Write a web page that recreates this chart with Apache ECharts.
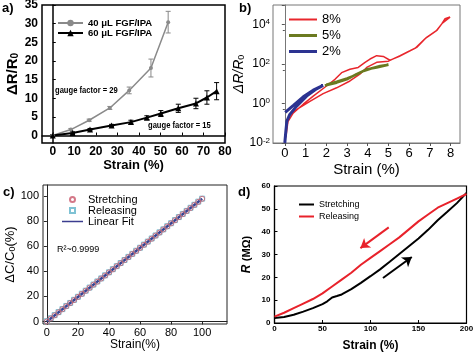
<!DOCTYPE html>
<html><head><meta charset="utf-8">
<script src="https://cdn.jsdelivr.net/npm/echarts@6/dist/echarts.min.js"></script>
<style>html,body{margin:0;padding:0;background:#fff}#c{width:474px;height:359px}</style>
</head><body><div id="c"></div>
<script>
// ---------- Panel a ----------
const aStrain40 = [0, 8.4, 16.9, 26.5, 35.5, 45.6, 53.6];
const aResp40   = [0, 1.6, 4.1, 7.4, 12.1, 18.1, 30.4];
const aErr40    = [0.2, 0.3, 0.3, 0.4, 0.9, 2.4, 2.9];
const aStrain60 = [0, 9.2, 17.3, 27.3, 36.3, 43.7, 50.2, 58.3, 66.5, 71.6, 76.1];
const aResp60   = [0, 0.7, 1.6, 2.7, 3.6, 4.8, 5.9, 7.3, 8.6, 10.2, 11.9];
const aErr60    = [0.2, 0.3, 0.3, 0.3, 0.5, 0.5, 0.8, 1.1, 1.4, 1.8, 2.3];
const aXTicks = [0, 10, 20, 30, 40, 50, 60, 70, 80];
const aYTicks = [0, 5, 10, 15, 20, 25, 30, 35];

// ---------- Panel b ----------
const b8Strain = [0, 0.08, 0.24, 0.56, 1.21, 1.85, 2.5, 3.14, 3.62, 3.95, 4.43, 5.0, 5.2, 5.56, 6.04, 6.36, 6.84, 7.33, 7.57, 7.73, 7.97,
                  7.6, 7.3, 6.8, 6.3, 5.9, 5.5, 5.2, 5.07, 4.75, 4.43, 4.11, 3.87, 3.54, 3.14, 2.74, 2.42, 2.01, 1.37, 0.89, 0.4, 0.15, 0.05];
const b8Resp   = [0.01, 0.07, 0.28, 0.49, 1.3, 3.2, 6.3, 14, 31, 68, 123, 141, 180, 270, 480, 710, 2300, 5100, 11000, 20000, 24500,
                  12000, 4800, 2100, 650, 400, 240, 180, 158, 245, 270, 182, 123, 68, 55, 37, 17, 7.8, 2.4, 0.93, 0.33, 0.12, 0.02];
const b5Strain = [1.93, 2.5, 2.99, 3.46, 3.95, 4.43, 5.0, 4.6, 4.2, 3.8, 3.4, 3.0, 2.5, 2.0];
const b5Resp   = [8.3, 11.5, 17, 31, 55, 68, 93, 80, 62, 45, 28, 19, 13, 9];
const b2Strain = [0.02, 0.4, 0.89, 1.37, 1.85, 1.53, 1.05, 0.56, 0.24, 0.1, 0.05, 0.0];
const b2Resp   = [0.36, 0.79, 2.2, 4.8, 8.3, 5.6, 2.4, 0.72, 0.28, 0.13, 0.04, 0.01];
const bXTicks = [0, 1, 2, 3, 4, 5, 6, 7, 8];

// ---------- Panel c ----------
const cStrain  = [0,2.5,5,7.5,10,12.5,15,17.5,20,22.5,25,27.5,30,32.5,35,37.5,40,42.5,45,47.5,50,52.5,55,57.5,60,62.5,65,67.5,70,72.5,75,77.5,80,82.5,85,87.5,90,92.5,95,97.5,100];
const cStretch = [0,2.4,4.9,7.3,9.8,12.2,14.7,17.1,19.6,22,24.5,26.9,29.4,31.8,34.3,36.7,39.2,41.6,44.1,46.5,49,51.4,53.9,56.3,58.8,61.2,63.7,66.1,68.6,71,73.5,75.9,78.4,80.8,83.3,85.7,88.2,90.6,93.1,95.5,98];
const cRelease = [0.3,2.6,5.1,7.5,9.9,12.4,14.8,17.3,19.7,22.2,24.6,27.1,29.5,32,34.4,36.9,39.3,41.8,44.2,46.7,49.1,51.6,54,56.5,58.9,61.4,63.8,66.3,68.7,71.2,73.6,76.1,78.5,81,83.4,85.9,88.3,90.8,93.2,95.7,98.1];
const cFitX = [0, 100];
const cFitY = [0, 98];
const cTicks = [0, 20, 40, 60, 80, 100];

// ---------- Panel d ----------
const dStretchX = [0,10,20,30,40,50,55,60,65,70,80,90,100,110,120,130,140,150,160,170,180,190,200];
const dStretchY = [2.2,2.6,3.6,5.0,6.5,8.3,9.5,11.2,11.8,12.5,14.8,17.6,20.5,23.5,26.8,30.2,33.6,37,40.8,45,48.7,52.5,57];
const dReleaseX = [0,10,20,30,40,50,60,70,80,90,100,110,120,130,140,150,160,170,180,190,200];
const dReleaseY = [2.8,4.5,6.5,8.5,10.5,13,16,19,22,25.5,28.5,31.5,34.5,37.5,41,44.5,47.5,50.5,52.5,54.5,56.5];

const FONT = 'Liberation Sans, Arial, sans-serif';
const pair = (xs, ys) => xs.map((x, i) => [x, ys[i]]);
const bar = (w, h) => 'path://M0,0L' + w + ',0L' + w + ',' + h + 'L0,' + h + 'Z';

function errSeries(xs, ys, es, color) {
  return {
    type: 'custom', xAxisIndex: 0, yAxisIndex: 0, silent: true, z: 1,
    data: xs.map((x, i) => [x, ys[i], es[i]]),
    encode: { x: 0, y: 1 },
    renderItem(params, api) {
      const x = api.value(0), y = api.value(1), e = api.value(2);
      const hi = api.coord([x, y + e]), lo = api.coord([x, y - e]);
      const w = 2.5, st = { stroke: color, lineWidth: 1 };
      return { type: 'group', children: [
        { type: 'line', shape: { x1: hi[0], y1: hi[1], x2: lo[0], y2: lo[1] }, style: st },
        { type: 'line', shape: { x1: hi[0] - w, y1: hi[1], x2: hi[0] + w, y2: hi[1] }, style: st },
        { type: 'line', shape: { x1: lo[0] - w, y1: lo[1], x2: lo[0] + w, y2: lo[1] }, style: st }
      ]};
    }
  };
}

const supRich = { b: { fontSize: 12, color: '#000', fontFamily: FONT }, s: { fontSize: 8, color: '#000', fontFamily: FONT, verticalAlign: 'top', padding: [0, 0, 5, 0] } };

const chart = echarts.init(document.getElementById('c'), null, { renderer: 'canvas' });
chart.setOption({
  animation: false,
  textStyle: { fontFamily: FONT },
  grid: [
    { left: 42, top: 5, width: 183, height: 138, show: true, borderColor: '#000', borderWidth: 1.5, outerBoundsMode: 'none' },
    { left: 273, top: 5, width: 187, height: 138, show: true, borderColor: '#777', borderWidth: 1, outerBoundsMode: 'none' },
    { left: 43, top: 185, width: 184, height: 139, show: true, borderColor: '#222', borderWidth: 1, outerBoundsMode: 'none' },
    { left: 274.5, top: 186, width: 192, height: 137, show: true, borderColor: '#000', borderWidth: 1.2, outerBoundsMode: 'none' }
  ],
  xAxis: [
    { gridIndex: 0, type: 'value', min: -5, max: 80,
      axisLine: { lineStyle: { color: '#000', width: 1.5 } },
      axisTick: { inside: true, length: 3, customValues: aXTicks, lineStyle: { color: '#000' } },
      axisLabel: { customValues: aXTicks, margin: 3, fontSize: 12, fontWeight: 'bold', color: '#000' },
      splitLine: { show: false },
      name: 'Strain (%)', nameLocation: 'middle', nameGap: 15,
      nameTextStyle: { fontSize: 13, fontWeight: 'bold', color: '#000' } },
    { gridIndex: 1, type: 'value', min: -0.57, max: 8.45,
      axisLine: { lineStyle: { color: '#777' } },
      axisTick: { inside: false, length: 3, customValues: bXTicks, lineStyle: { color: '#555' } },
      axisLabel: { customValues: bXTicks, margin: 4, fontSize: 13, color: '#000' },
      splitLine: { show: false },
      name: 'Strain (%)', nameLocation: 'middle', nameGap: 19,
      nameTextStyle: { fontSize: 15, color: '#000' } },
    { gridIndex: 2, type: 'value', min: -2.5, max: 116,
      axisLine: { lineStyle: { color: '#222' } },
      axisTick: { inside: false, length: 3, customValues: cTicks, lineStyle: { color: '#222' } },
      axisLabel: { customValues: cTicks, margin: 3, fontSize: 11, color: '#000' },
      splitLine: { show: false },
      name: 'Strain(%)', nameLocation: 'middle', nameGap: 13,
      nameTextStyle: { fontSize: 12, color: '#000' } },
    { gridIndex: 3, type: 'value', min: 0, max: 200, interval: 50,
      axisLine: { lineStyle: { color: '#000', width: 1.2 } },
      axisTick: { inside: true, length: 3, lineStyle: { color: '#000' } },
      axisLabel: { margin: 2, fontSize: 8, fontWeight: 'bold', color: '#000' },
      splitLine: { show: false },
      name: 'Strain (%)', nameLocation: 'middle', nameGap: 17,
      nameTextStyle: { fontSize: 12, fontWeight: 'bold', color: '#000' } }
  ],
  yAxis: [
    { gridIndex: 0, type: 'value', min: -2, max: 35,
      axisLine: { lineStyle: { color: '#000', width: 1.5 } },
      axisTick: { inside: true, length: 3, customValues: aYTicks, lineStyle: { color: '#000' } },
      axisLabel: { customValues: aYTicks, margin: 4, fontSize: 12, fontWeight: 'bold', color: '#000' },
      splitLine: { show: false },
      name: '{n|ΔR/R}{s|0}', nameLocation: 'middle', nameGap: 22,
      nameTextStyle: { rich: { n: { fontSize: 15, fontWeight: 'bold', color: '#000', fontFamily: FONT },
                               s: { fontSize: 10, fontWeight: 'bold', color: '#000', fontFamily: FONT, verticalAlign: 'bottom' } } } },
    { gridIndex: 1, type: 'log', logBase: 10, min: 0.01, max: 100000, interval: 2,
      axisLine: { lineStyle: { color: '#777' } },
      axisTick: { inside: false, length: 3, lineStyle: { color: '#555' } },
      minorTick: { show: true, splitNumber: 2, length: 2, lineStyle: { color: '#555' } },
      axisLabel: { margin: 3, showMaxLabel: false, color: '#000',
        formatter: v => '{b|10}{s|' + Math.round(Math.log10(v)) + '}', rich: supRich },
      splitLine: { show: false },
      name: '{n|ΔR/R}{s|0}', nameLocation: 'middle', nameGap: 22,
      nameTextStyle: { rich: { n: { fontSize: 14, fontStyle: 'italic', color: '#000', fontFamily: FONT },
                               s: { fontSize: 9, color: '#000', fontFamily: FONT, verticalAlign: 'bottom' } } } },
    { gridIndex: 2, type: 'value', min: -2, max: 109,
      axisLine: { lineStyle: { color: '#222' } },
      axisTick: { inside: false, length: 3, customValues: cTicks, lineStyle: { color: '#222' } },
      axisLabel: { customValues: cTicks, margin: 4, fontSize: 11, color: '#000' },
      splitLine: { show: false },
      name: '{n|ΔC/C}{s|0}{n|(%)}', nameLocation: 'middle', nameGap: 26,
      nameTextStyle: { rich: { n: { fontSize: 13, color: '#000', fontFamily: FONT },
                               s: { fontSize: 9, color: '#000', fontFamily: FONT, verticalAlign: 'bottom' } } } },
    { gridIndex: 3, type: 'value', min: 0, max: 60, interval: 10,
      axisLine: { lineStyle: { color: '#000', width: 1.2 } },
      axisTick: { inside: true, length: 3, lineStyle: { color: '#000' } },
      axisLabel: { margin: 4, fontSize: 8, fontWeight: 'bold', color: '#000' },
      splitLine: { show: false },
      name: '{i|R} {n|(MΩ)}', nameLocation: 'middle', nameGap: 22,
      nameTextStyle: { rich: { i: { fontSize: 12, fontWeight: 'bold', fontStyle: 'italic', color: '#000', fontFamily: FONT },
                               n: { fontSize: 11, fontWeight: 'bold', color: '#000', fontFamily: FONT } } } }
  ],
  legend: [
    { left: 52, top: 13, orient: 'vertical', itemWidth: 25, itemHeight: 8, itemGap: 0,
      textStyle: { fontSize: 9.5, fontWeight: 'bold', color: '#000' },
      data: ['40 μL FGF/IPA', '60 μL FGF/IPA'] },
    { left: 284, top: 8, orient: 'vertical', itemWidth: 28, itemHeight: 12, itemGap: 3,
      textStyle: { fontSize: 13, color: '#000' },
      data: [{ name: '8%', icon: bar(28, 2) }, { name: '5%', icon: bar(28, 3) }, { name: '2%', icon: bar(28, 3) }] },
    { left: 57, top: 189, orient: 'vertical', itemWidth: 21, itemHeight: 5, itemGap: 0,
      textStyle: { fontSize: 11, color: '#000' },
      data: [{ name: 'Stretching', icon: 'circle' }, { name: 'Releasing', icon: bar(10, 10) }, { name: 'Linear Fit', icon: bar(42, 3) }] },
    { left: 294, top: 195, orient: 'vertical', itemWidth: 15, itemHeight: 8, itemGap: 3,
      textStyle: { fontSize: 9, color: '#000' },
      data: [{ name: 'Stretching ', icon: bar(15, 2) }, { name: 'Releasing ', icon: bar(15, 2) }] }
  ],
  series: [
    errSeries(aStrain40, aResp40, aErr40, '#888'),
    errSeries(aStrain60, aResp60, aErr60, '#000'),
    { name: '40 μL FGF/IPA', type: 'line', xAxisIndex: 0, yAxisIndex: 0, data: pair(aStrain40, aResp40),
      symbol: 'circle', symbolSize: 4, lineStyle: { color: '#8a8a8a', width: 1.5 }, itemStyle: { color: '#8a8a8a' } },
    { name: '60 μL FGF/IPA', type: 'line', xAxisIndex: 0, yAxisIndex: 0, data: pair(aStrain60, aResp60),
      symbol: 'triangle', symbolSize: 6, lineStyle: { color: '#000', width: 2 }, itemStyle: { color: '#000' } },

    { name: '8%', type: 'line', xAxisIndex: 1, yAxisIndex: 1, data: pair(b8Strain, b8Resp),
      symbol: 'none', lineStyle: { color: '#e8262c', width: 1.5 }, itemStyle: { color: '#e8262c' } },
    { name: '5%', type: 'line', xAxisIndex: 1, yAxisIndex: 1, data: pair(b5Strain, b5Resp),
      symbol: 'none', lineStyle: { color: '#6b7a20', width: 2.5 }, itemStyle: { color: '#6b7a20' } },
    { name: '2%', type: 'line', xAxisIndex: 1, yAxisIndex: 1, data: pair(b2Strain, b2Resp),
      symbol: 'none', lineStyle: { color: '#2c3391', width: 3 }, itemStyle: { color: '#2c3391' } },

    { name: 'Linear Fit', type: 'line', xAxisIndex: 2, yAxisIndex: 2, data: pair(cFitX, cFitY), z: 1,
      symbol: 'none', lineStyle: { color: '#3b3d8f', width: 2.5 }, itemStyle: { color: '#3b3d8f' } },
    { name: 'Releasing', type: 'scatter', xAxisIndex: 2, yAxisIndex: 2, data: pair(cStrain, cRelease), z: 2,
      symbol: 'rect', symbolSize: 5, itemStyle: { color: 'rgba(255,255,255,0)', borderColor: '#5fb3c9', borderWidth: 1 } },
    { name: 'Stretching', type: 'scatter', xAxisIndex: 2, yAxisIndex: 2, data: pair(cStrain, cStretch), z: 3,
      symbol: 'circle', symbolSize: 5, itemStyle: { color: 'rgba(255,255,255,0)', borderColor: '#c9566a', borderWidth: 1 } },

    { name: 'Stretching ', type: 'line', xAxisIndex: 3, yAxisIndex: 3, data: pair(dStretchX, dStretchY),
      symbol: 'none', lineStyle: { color: '#000', width: 2 }, itemStyle: { color: '#000' },
      markLine: { silent: true, symbol: ['none', 'arrow'], symbolSize: 9, label: { show: false },
        lineStyle: { color: '#000', width: 2, type: 'solid' },
        data: [[{ coord: [113, 19.7] }, { coord: [143, 28.9] }]] } },
    { name: 'Releasing ', type: 'line', xAxisIndex: 3, yAxisIndex: 3, data: pair(dReleaseX, dReleaseY),
      symbol: 'none', lineStyle: { color: '#e8222b', width: 2 }, itemStyle: { color: '#e8222b' },
      markLine: { silent: true, symbol: ['none', 'arrow'], symbolSize: 9, label: { show: false },
        lineStyle: { color: '#e8222b', width: 2, type: 'solid' },
        data: [[{ coord: [119, 41.9] }, { coord: [89.5, 32.8] }]] } }
  ],
  graphic: [
    { type: 'text', left: 2, top: 2, style: { text: 'a)', font: 'bold 13px ' + FONT, fill: '#000' } },
    { type: 'text', left: 239, top: 2, style: { text: 'b)', font: 'bold 13px ' + FONT, fill: '#000' } },
    { type: 'text', left: 3, top: 186, style: { text: 'c)', font: 'bold 13px ' + FONT, fill: '#000' } },
    { type: 'text', left: 238, top: 186, style: { text: 'd)', font: 'bold 13px ' + FONT, fill: '#000' } },
    { type: 'text', x: 55, y: 85, scaleX: 0.8, style: { text: 'gauge factor = 29', font: 'bold 9.5px ' + FONT, fill: '#000' } },
    { type: 'text', x: 148, y: 120, scaleX: 0.8, style: { text: 'gauge factor = 15', font: 'bold 9.5px ' + FONT, fill: '#000' } },
    { type: 'text', left: 57, top: 245, style: { text: 'R²~0.9999', font: '9px ' + FONT, fill: '#000' } }
  ]
});
</script></body></html>
